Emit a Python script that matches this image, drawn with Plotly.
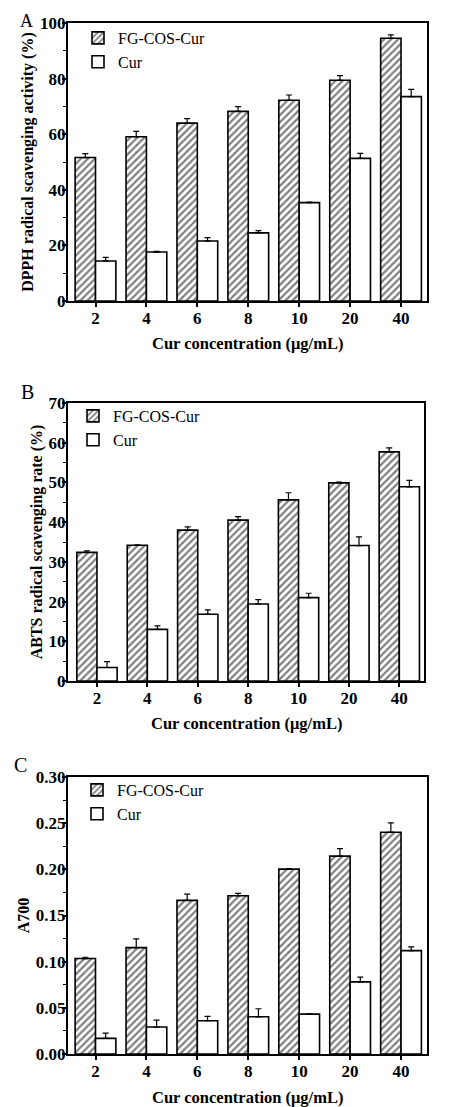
import plotly.graph_objects as go

categories = ["2", "4", "6", "8", "10", "20", "40"]
series_names = ["FG-COS-Cur", "Cur"]

dpph_fg = [51.6, 59.1, 64.0, 68.2, 72.2, 79.4, 94.5]
dpph_fg_err = [1.4, 1.9, 1.6, 1.7, 1.9, 1.7, 1.2]
dpph_cur = [14.4, 17.6, 21.6, 24.5, 35.4, 51.3, 73.5]
dpph_cur_err = [1.3, 0.3, 1.2, 0.8, 0.2, 1.8, 2.6]

abts_fg = [32.4, 34.2, 38.0, 40.5, 45.6, 49.9, 57.7]
abts_fg_err = [0.4, 0.1, 0.8, 0.9, 1.8, 0.2, 1.0]
abts_cur = [3.4, 13.0, 16.8, 19.4, 21.0, 34.1, 48.9]
abts_cur_err = [1.5, 0.9, 1.1, 1.1, 1.1, 2.2, 1.6]

a700_fg = [0.1034, 0.1152, 0.1664, 0.1714, 0.2002, 0.2143, 0.2402]
a700_fg_err = [0.0014, 0.0094, 0.0068, 0.0025, 0.0007, 0.0082, 0.0101]
a700_cur = [0.0169, 0.0292, 0.0360, 0.0403, 0.0432, 0.0781, 0.1120]
a700_cur_err = [0.0058, 0.0075, 0.0047, 0.0087, 0.0004, 0.0051, 0.0040]

y_titles = ["DPPH radical scavenging activity (%)", "ABTS radical scavenging rate (%)", "A700"]
x_title = "Cur concentration (\u03bcg/mL)"
panel_letters = ["A", "B", "C"]

SERIF = "Liberation Serif"
PAGE_W, PAGE_H = 474, 1107
OFF = 8  # default body margin of the html page
W, H = PAGE_W - OFF, PAGE_H - OFF


def px_x(v):
    return (v - OFF) / W


def px_y(v):
    return 1 - (v - OFF) / H


panels = [
    dict(fg=dpph_fg, fge=dpph_fg_err, cur=dpph_cur, cure=dpph_cur_err,
         yr=[0, 100], dt=20, fmt="d", top=23, bot=301, left=68, right=427,
         xr=[-0.54, 6.51], xt=343, lx=78, ly=21, letter_y=21, letter_x=26, lsize=18),
    dict(fg=abts_fg, fge=abts_fg_err, cur=abts_cur, cure=abts_cur_err,
         yr=[0, 70], dt=10, fmt="d", top=403, bot=681, left=68, right=424,
         xr=[-0.575, 6.49], xt=723, lx=73, ly=399, letter_y=392, letter_x=27, lsize=20),
    dict(fg=a700_fg, fge=a700_fg_err, cur=a700_cur, cure=a700_cur_err,
         yr=[0, 0.30], dt=0.05, fmt=".2f", top=777, bot=1054, left=68, right=427,
         xr=[-0.54, 6.51], xt=1097, lx=77, ly=773, letter_y=765, letter_x=20, lsize=20),
]

xpos = list(range(len(categories)))
fig = go.Figure()
layout = dict(
    width=W, height=H, margin=dict(l=0, r=0, t=0, b=0, autoexpand=False),
    paper_bgcolor="white", plot_bgcolor="white",
    barmode="group", bargap=0.2, bargroupgap=0,
    showlegend=True, annotations=[],
    font=dict(family=SERIF, color="black"),
)

for i, p in enumerate(panels):
    n = "" if i == 0 else str(i + 1)
    xa, ya = "x" + n, "y" + n
    leg = "legend" + n
    zeros = [0] * len(categories)
    fig.add_trace(go.Bar(
        x=xpos, y=p["fg"], name=series_names[0], xaxis=xa, yaxis=ya, legend=leg,
        offsetgroup="fg",
        marker=dict(color="white", line=dict(color="black", width=1.6),
                    pattern=dict(shape="/", fgcolor="black", bgcolor="white",
                                 size=5, solidity=0.45)),
        error_y=dict(type="data", symmetric=False, array=p["fge"], arrayminus=zeros,
                     color="black", thickness=1.2, width=3),
    ))
    fig.add_trace(go.Bar(
        x=xpos, y=p["cur"], name=series_names[1], xaxis=xa, yaxis=ya, legend=leg,
        offsetgroup="cur",
        marker=dict(color="white", line=dict(color="black", width=1.6)),
        error_y=dict(type="data", symmetric=False, array=p["cure"], arrayminus=zeros,
                     color="black", thickness=1.2, width=3),
    ))
    layout["xaxis" + n] = dict(
        domain=[px_x(p["left"]), px_x(p["right"])], anchor=ya, range=p["xr"],
        tickmode="array", tickvals=xpos, ticktext=categories,
        ticks="outside", ticklen=4, tickwidth=1.5, tickcolor="black",
        ticklabelstandoff=-3,
        showline=True, linecolor="black", linewidth=2, mirror=True,
        showgrid=False, zeroline=False,
        tickfont=dict(family=SERIF, size=17, weight="bold", color="black"),
    )
    layout["yaxis" + n] = dict(
        domain=[px_y(p["bot"]), px_y(p["top"])], anchor=xa, range=p["yr"],
        tick0=0, dtick=p["dt"], tickformat=p["fmt"],
        ticks="outside", ticklen=4, tickwidth=1.5, tickcolor="black",
        ticklabelstandoff=-7,
        minor=dict(ticks="outside", ticklen=3, tickwidth=1.2, tickcolor="black",
                   dtick=p["dt"] / 2, showgrid=False),
        showline=True, linecolor="black", linewidth=2, mirror=True,
        showgrid=False, zeroline=False,
        tickfont=dict(family=SERIF, size=17, weight="bold", color="black"),
        title=dict(text=y_titles[i], standoff=2,
                   font=dict(family=SERIF, size=16, weight="bold", color="black")),
    )
    layout[leg] = dict(
        x=px_x(p["lx"]), y=px_y(p["ly"]), xanchor="left", yanchor="top",
        bgcolor="rgba(0,0,0,0)", borderwidth=0, tracegroupgap=0,
        font=dict(family=SERIF, size=16, color="black"),
        itemwidth=30,
    )
    layout["annotations"].append(dict(
        text=x_title, xref="paper", yref="paper",
        x=px_x((p["left"] + p["right"]) / 2), y=px_y(p["xt"]),
        xanchor="center", yanchor="middle", showarrow=False,
        font=dict(family=SERIF, size=16.5, weight="bold", color="black"),
    ))
    layout["annotations"].append(dict(
        text=panel_letters[i], xref="paper", yref="paper",
        x=px_x(p["letter_x"]), y=px_y(p["letter_y"]),
        xanchor="center", yanchor="middle", showarrow=False,
        font=dict(family=SERIF, size=p["lsize"], color="black"),
    ))

fig.update_layout(**layout)
fig.write_html("out.html")
